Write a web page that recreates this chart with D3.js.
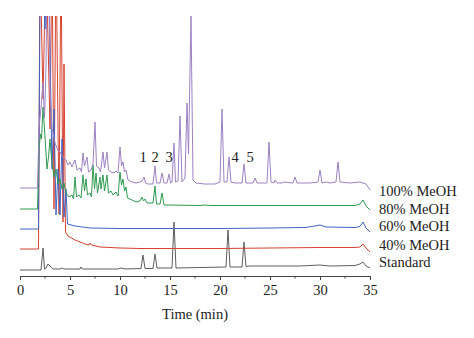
<!DOCTYPE html>
<html><head><meta charset="utf-8">
<script src="https://cdn.jsdelivr.net/npm/d3@7"></script>
<style>body{margin:0;background:#fff;}svg{display:block;}</style>
</head><body>
<script>
const seriesNames = ["Standard","40% MeOH","60% MeOH","80% MeOH","100% MeOH"];
const seriesColors = ["#5e5e5e","#d6432f","#4264c4","#2f9a52","#9c82c2"];
const seriesOffsets = [0, 21, 41, 61, 82];
const xTicks = [0,5,10,15,20,25,30,35];
const peakLabels = ["1","2","3","4","5"];
const peakLabelTimes = [12.3,13.5,14.9,21.5,23.0];
const peakLabelLevel = 108;

const standard = [[0,0],[2.1,0],[2.3,22],[2.45,1],[2.6,2],[2.8,6],[3.0,4],[3.3,1],[4.0,1],[4.2,2],[4.4,1],[6.0,1],[6.1,3],[6.25,1],[9.8,1],[10.1,2],[10.5,1],[12.1,1.5],[12.3,15],[12.5,1.5],[13.3,1.5],[13.5,16],[13.7,2],[15.2,2],[15.4,48],[15.6,2],[20.6,3],[20.8,40],[21.0,3],[22.2,3],[22.4,28],[22.6,3.5],[23,4],[25,4],[28,4],[30,5],[31,4],[33.5,4.5],[34.0,6],[34.3,8],[34.6,4],[35,2]];
const meoh40 = [[0,0],[1.85,0],[2.0,300],[2.3,150],[2.6,300],[3.0,120],[3.2,300],[3.4,40],[3.6,300],[3.9,35],[4.1,300],[4.3,27],[4.4,185],[4.55,17],[4.8,13],[5.5,9],[6.5,5],[6.9,4],[7.0,6],[7.15,4],[8,2],[10,1],[12,0.5],[20,0.5],[25,1],[30,1.5],[33.5,1.5],[34.0,2],[34.3,5],[34.6,1],[35,-3]];
const meoh60 = [[0,0],[1.85,0],[2.05,300],[2.5,200],[2.8,300],[3.2,60],[3.4,120],[3.6,14],[3.8,60],[4.0,14],[4.2,90],[4.4,12],[4.6,40],[4.75,5],[5.5,3],[7,1],[10,0.5],[20,0.5],[25,1],[28.5,1.5],[29.5,3],[30,4],[30.6,2],[33.5,1.5],[34.0,2.5],[34.3,7],[34.6,1],[35,-3]];
const meoh80 = [[0,0],[1.75,0],[1.9,60],[2.05,75],[2.15,70],[2.3,102],[2.45,80],[2.7,40],[2.85,52],[3.0,70],[3.15,50],[3.4,32],[3.6,40],[3.8,25],[4.0,30],[4.2,20],[4.4,26],[4.6,16],[4.9,12],[5.2,14],[5.35,10],[5.5,32],[5.65,12],[5.9,14],[6.1,11],[6.3,34],[6.45,18],[6.6,30],[6.75,14],[7.0,16],[7.15,12],[7.3,44],[7.45,20],[7.6,36],[7.75,16],[8.0,32],[8.1,20],[8.3,34],[8.45,18],[8.7,34],[8.85,16],[9.1,18],[9.3,14],[9.6,17],[9.8,13],[10.0,37],[10.15,24],[10.3,30],[10.45,18],[10.6,22],[10.75,11],[11.2,9],[11.6,7],[12.0,8],[12.2,12],[12.35,8],[12.5,10],[12.7,6],[13.3,6],[13.5,23],[13.65,5],[14.0,5],[14.2,16],[14.4,4],[15,4],[18,3.5],[18.5,4],[19,3.5],[25,3.5],[30,3.5],[33.5,3.5],[34.0,5],[34.3,9],[34.6,3],[35,-1]];
const meoh100 = [[0,0],[1.75,0],[1.9,60],[2.1,80],[2.3,106],[2.45,70],[2.6,120],[2.8,300],[3.0,100],[3.2,60],[3.5,45],[3.8,38],[4.0,36],[4.3,30],[4.6,28],[4.8,23],[5.0,26],[5.2,21],[5.5,28],[5.7,18],[6.0,20],[6.15,16],[6.3,35],[6.45,22],[6.7,31],[6.85,16],[7.1,18],[7.3,24],[7.5,66],[7.65,22],[7.9,20],[8.05,16],[8.3,36],[8.45,20],[8.7,36],[8.85,18],[9.1,16],[9.4,15],[9.6,17],[9.8,15],[10.0,41],[10.15,22],[10.3,26],[10.45,16],[10.6,18],[10.8,8],[11.2,6],[11.6,5],[12.0,6],[12.2,7],[12.4,11],[12.55,5],[12.8,4],[13.3,4],[13.5,22],[13.65,5],[14.0,5],[14.2,15],[14.4,5],[14.7,5],[14.9,14],[15.05,5],[15.2,6],[15.4,45],[15.55,6],[15.8,7],[16.0,72],[16.2,6],[16.5,10],[16.7,85],[16.85,34],[17.1,172],[17.3,8],[17.6,5],[18.5,4],[19.5,4],[20.0,6],[20.2,79],[20.4,6],[20.7,6],[20.9,31],[21.1,6],[21.5,5],[22.2,5],[22.4,24],[22.6,5],[23.3,5],[23.5,10],[23.7,5],[24.7,5],[24.9,46],[25.1,6],[25.4,5],[25.5,8],[25.7,5],[26.2,5],[26.4,6],[27.3,5],[27.5,11],[27.7,5],[29.0,5],[29.8,6],[30.0,18],[30.2,5],[30.6,6],[31.0,5],[31.6,6],[31.8,26],[32.0,6],[33.0,5],[34.0,6],[34.3,5],[34.6,4],[35,-2]];
const seriesData = [standard, meoh40, meoh60, meoh80, meoh100];

const W = 474, H = 338;
const svg = d3.select("body").append("svg").attr("width", W).attr("height", H);
const x = d3.scaleLinear().domain([0,35]).range([20,370]);
const y = d3.scaleLinear().domain([0,254]).range([270,16]);
const font = "'Liberation Serif','Times New Roman',Times,serif";
const fs = 14.5;

svg.append("clipPath").attr("id","clip").append("rect")
  .attr("x", 0).attr("y", y(254)).attr("width", W).attr("height", 276 - y(254));

const line = d3.line().x(d => x(d[0])).y(d => y(d[1]));
const g = svg.append("g").attr("clip-path","url(#clip)");
seriesData.forEach((data, i) => {
  const off = seriesOffsets[i];
  g.append("path")
    .datum(data.map(d => [d[0], d[1] + off]))
    .attr("fill","none").attr("stroke", seriesColors[i])
    .attr("stroke-width", 1).attr("stroke-linejoin","round")
    .attr("d", line);
});

// legend labels at end of traces
const labelShift = [-3, 1, 2, 5, 8];
seriesNames.forEach((name, i) => {
  svg.append("text").attr("x", 379).attr("y", y(seriesOffsets[i]) + labelShift[i])
    .attr("font-family", font).attr("font-size", fs).attr("fill","#222")
    .text(name);
});

// peak labels
peakLabels.forEach((lab, i) => {
  svg.append("text").attr("x", x(peakLabelTimes[i])).attr("y", y(peakLabelLevel))
    .attr("text-anchor","middle").attr("font-family", font).attr("font-size", fs)
    .attr("fill","#222").text(lab);
});

// x axis
const axisY = 276;
const ax = svg.append("g").attr("transform", `translate(0,${axisY})`)
  .call(d3.axisBottom(x).tickValues(xTicks).tickSize(4).tickPadding(5).tickSizeOuter(0));
ax.select(".domain").attr("stroke","#444");
ax.selectAll(".tick line").attr("stroke","#444");
ax.selectAll(".tick text").attr("font-family", font).attr("font-size", fs).attr("fill","#222");
const minor = d3.range(2.5, 35, 5);
svg.append("g").selectAll("line").data(minor).join("line")
  .attr("x1", d => x(d)).attr("x2", d => x(d)).attr("y1", axisY).attr("y2", axisY + 2.5)
  .attr("stroke","#444");

svg.append("text").attr("x", 195).attr("y", 319).attr("text-anchor","middle")
  .attr("font-family", font).attr("font-size", fs).attr("fill","#222").text("Time (min)");
</script>
</body></html>
